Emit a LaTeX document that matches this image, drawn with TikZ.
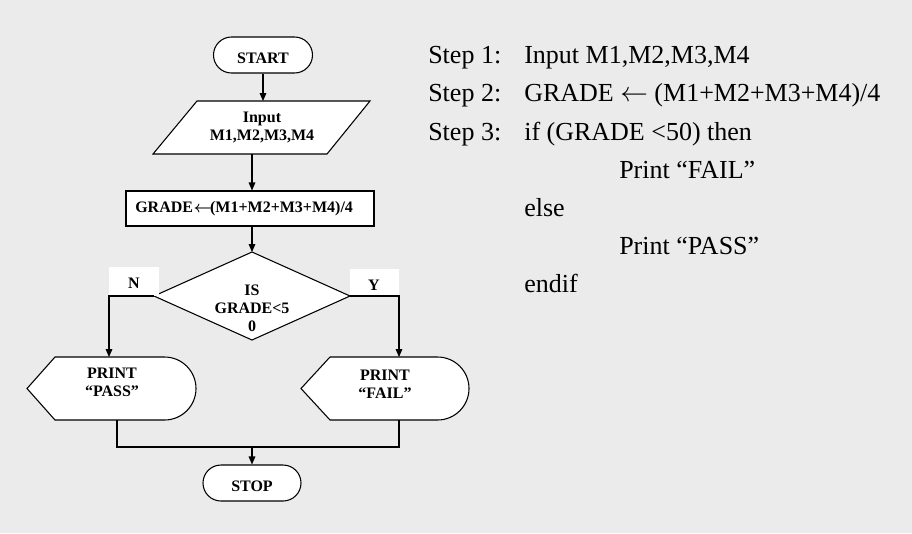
\documentclass[tikz,border=0pt]{standalone}
\usepackage{fontspec}
\setmainfont{Liberation Serif}
\usetikzlibrary{arrows.meta}
\definecolor{bg}{RGB}{235,235,235}
\begin{document}
\begin{tikzpicture}[x=0.75pt,y=-0.75pt]
\tikzset{
  shapeline/.style={draw=black, fill=white, line width=0.8pt},
  conn/.style={draw=black, line width=0.8pt},
  arr/.style={conn, -{Triangle[length=6pt,width=5pt]}},
  fc/.style={font=\bfseries\fontsize{12}{13.5}\selectfont, align=center, inner sep=0pt},
  code/.style={font=\fontsize{19.5}{23}\selectfont, anchor=base west, inner sep=0pt},
  lab/.style={fill=white},
}
\fill[bg] (0,0) rectangle (912,533);
\useasboundingbox (0,0) rectangle (912,533);

% START
\node[shapeline, rounded corners=13.5pt, minimum width=74.25pt, minimum height=27pt] (start) at (263,55) {};
\node[fc] (starttxt) at (263,58) {START};

% input parallelogram
\draw[shapeline] (197,101) -- (370,101) -- (327,154) -- (153,154) -- cycle;
\coordinate (inTop) at (263,101);
\coordinate (inBot) at (252,154);
\node[fc] (input) at (262,127) {Input\\M1,M2,M3,M4};

% GRADE box
\node[shapeline, minimum width=186pt, minimum height=26.25pt] (grade) at (250,208.5) {};
\node[fc, anchor=west] (gradetxt) at (135,209) {GRADE\kern0.5pt{\boldmath$\leftarrow$}\kern-1.5pt(M1+M2+M3+M4)/4};

% diamond
\coordinate (dT) at (252,252);
\coordinate (dR) at (350,296);
\coordinate (dB) at (252,340);
\coordinate (dL) at (154,296);
\draw[shapeline] (dT) -- (dR) -- (dB) -- (dL) -- cycle;
\node[fc] (cond) at (252,308) {IS\\GRADE<5\\0};

% N / Y labels
\fill[lab] (109,267) rectangle (159,296);
\node[fc] (nlab) at (134,283) {N};
\fill[lab] (350,269) rectangle (399,296);
\node[fc] (ylab) at (374,285) {Y};

% PASS display
\draw[shapeline] (27,388.5) -- (55,357) -- (164.5,357) arc[start angle=-90, end angle=90, radius=31.5] -- (55,420) -- cycle;
\node[fc] (pass) at (112,382) {PRINT\\“PASS”};
\coordinate (passTop) at (109,357);
\coordinate (passBot) at (117,420);

% FAIL display
\draw[shapeline] (301,388.5) -- (330,357) -- (437.5,357) arc[start angle=-90, end angle=90, radius=31.5] -- (330,420) -- cycle;
\node[fc] (fail) at (385,384) {PRINT\\“FAIL”};
\coordinate (failTop) at (399,357);
\coordinate (failBot) at (399,420);

% STOP
\node[shapeline, rounded corners=13.5pt, minimum width=73.5pt, minimum height=27pt] (stop) at (252,483) {};
\node[fc] (stoptxt) at (252,486) {STOP};

% connectors
\draw[arr] (start.south -| inTop) -- (inTop);
\draw[arr] (inBot) -- (inBot |- grade.north);
\draw[arr] (inBot |- grade.south) -- (dT);
\draw[arr] (dL) -- (passTop |- dL) -- (passTop);
\draw[arr] (dR) -- (failTop |- dR) -- (failTop);
\coordinate (join) at (252,447);
\draw[conn] (passBot) -- (passBot |- join) -- (failBot |- join) -- (failBot);
\draw[arr] (join) -- (stop.north);

% pseudo code
\node[code] (s1) at (428,63) {Step 1:};
\node[code] (c1) at (524,63) {Input M1,M2,M3,M4};
\node[code] (s2) at (428,101) {Step 2:};
\node[code] (c2) at (524,101) {GRADE $\leftarrow$ (M1+M2+M3+M4)/4};
\node[code] (s3) at (428,140) {Step 3:};
\node[code] (c3) at (524,140) {if (GRADE <50) then};
\node[code] (c4) at (619,178) {Print “FAIL”};
\node[code] (c5) at (524,216) {else};
\node[code] (c6) at (619,254) {Print “PASS”};
\node[code] (c7) at (524,292) {endif};
\end{tikzpicture}
\end{document}
